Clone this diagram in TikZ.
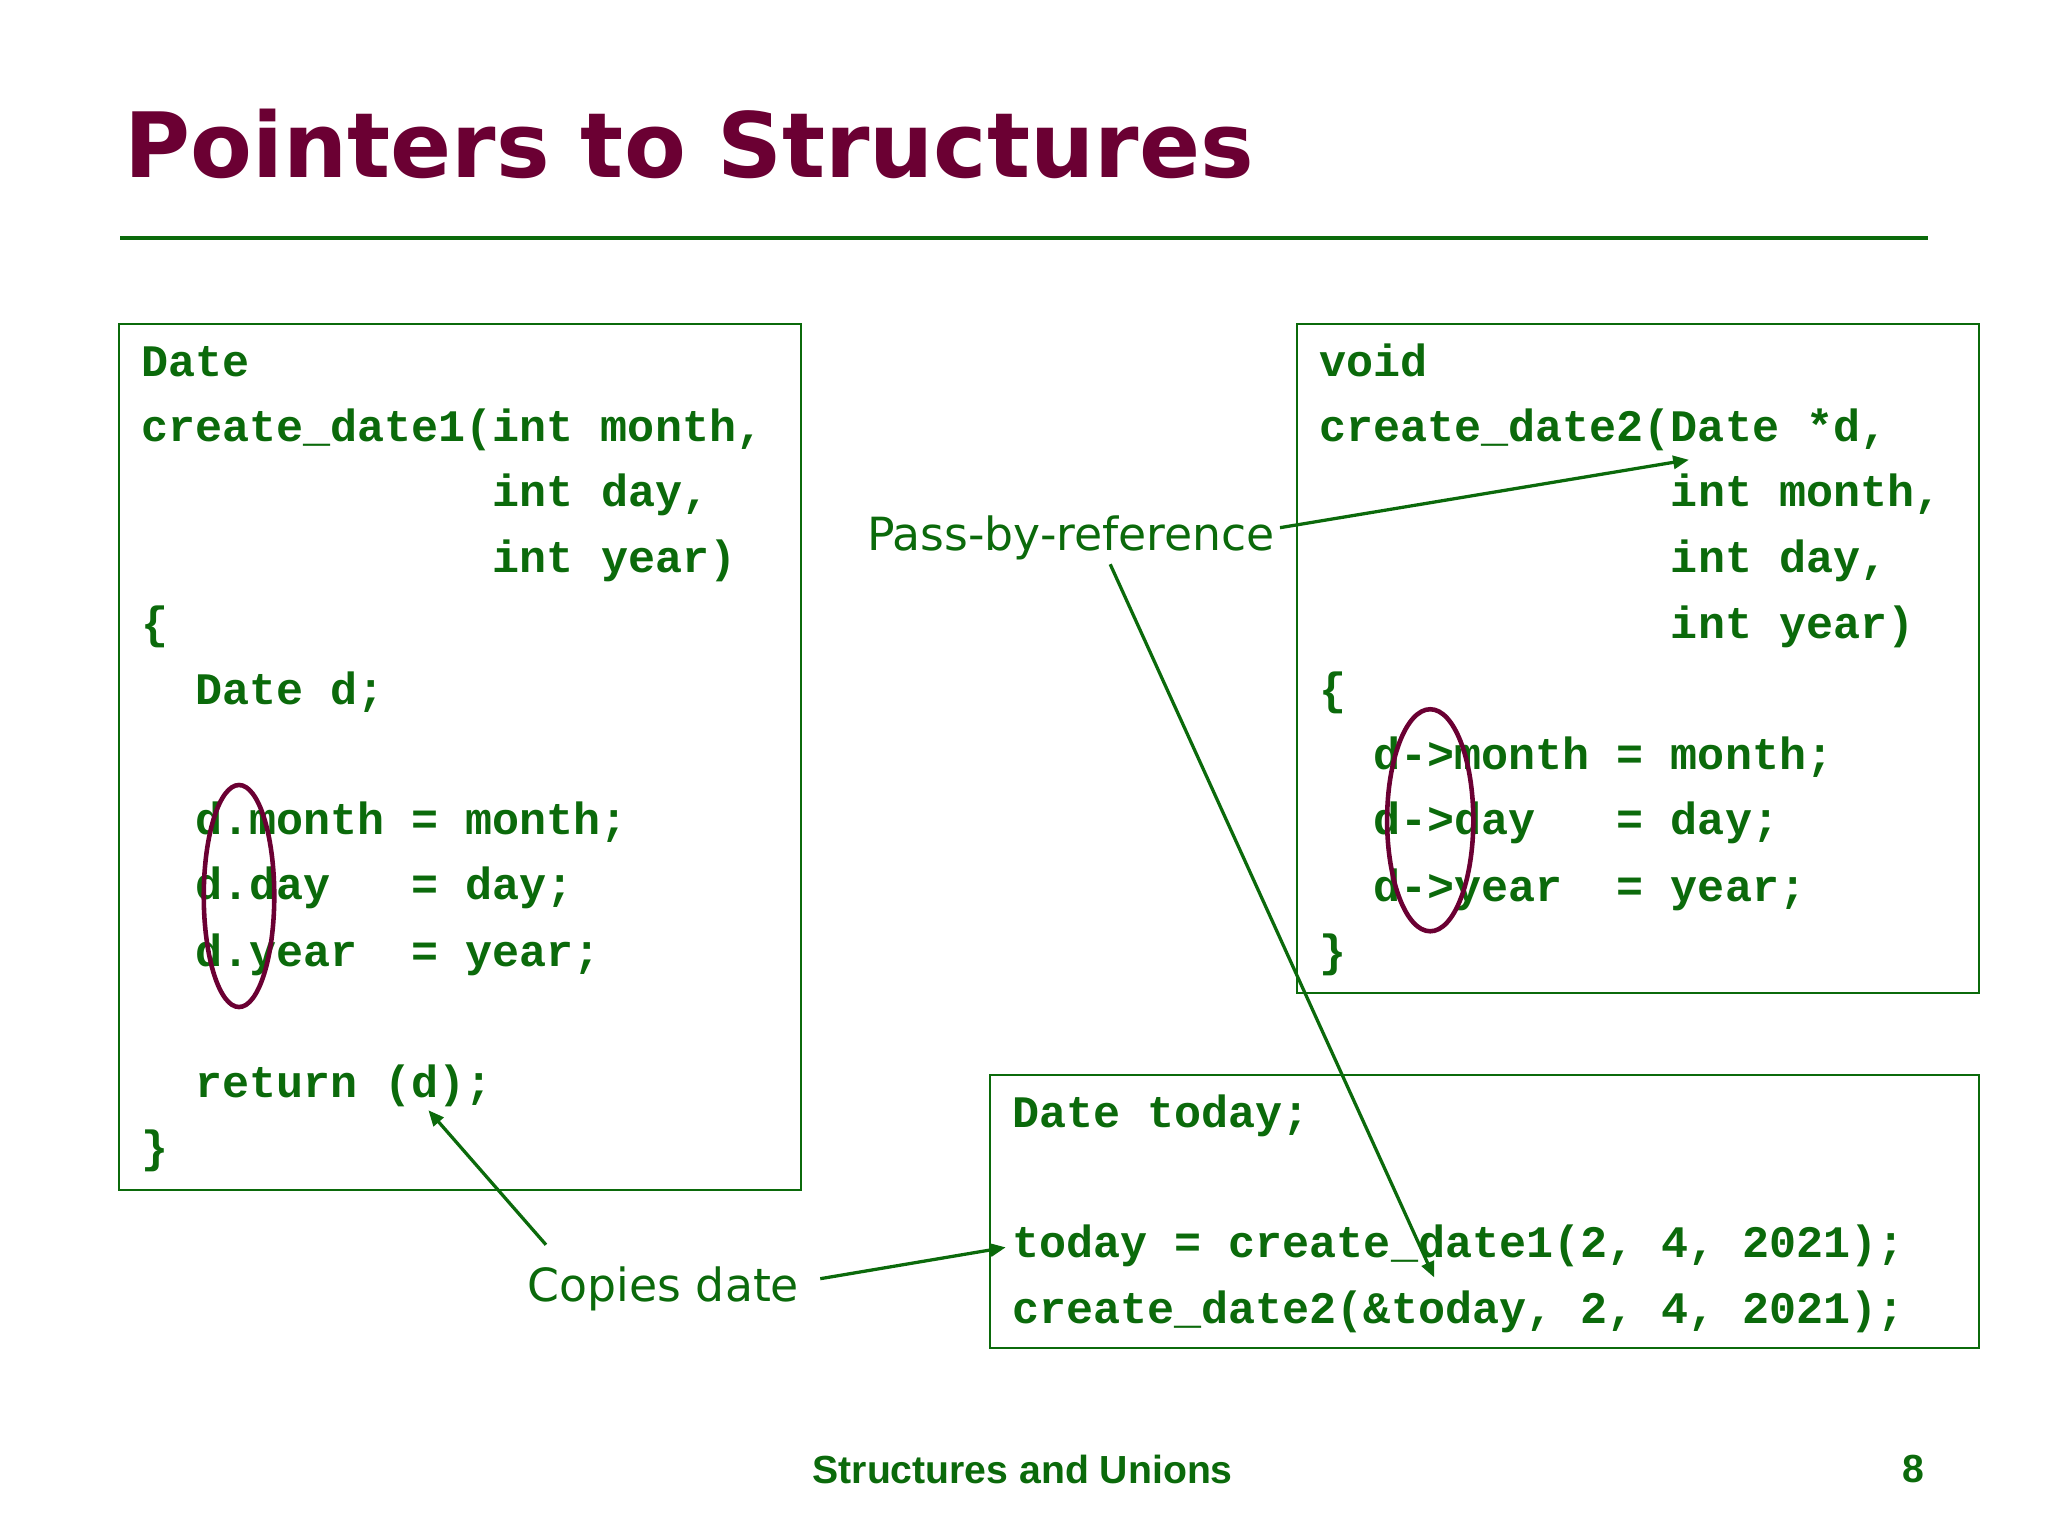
\documentclass[tikz,border=0pt]{standalone}
\usepackage{fontspec}
\setmainfont{DejaVu Sans}
\setmonofont{Liberation Mono}
\newfontfamily\footfont{Liberation Sans}
\usetikzlibrary{arrows.meta}
\definecolor{maroon}{HTML}{6B0033}
\definecolor{dgreen}{HTML}{0B6A0B}
\tikzset{
  code/.style={font=\fontsize{34.5}{40}\selectfont\ttfamily\bfseries, text=dgreen, anchor=base west, inner sep=0pt},
  box/.style={draw=dgreen, line width=1.5pt},
  lbl/.style={font=\fontsize{35}{40}\selectfont, text=dgreen, inner sep=0pt},
  arr/.style={draw=dgreen, line width=2.5pt, -{Triangle[length=12pt,width=10pt]}},
  ell/.style={draw=maroon, line width=3.5pt}
}
\begin{document}
\begin{tikzpicture}[x=1pt,y=-1pt]
\useasboundingbox (0,0) rectangle (1568,1176);
\fill[white] (0,0) rectangle (1568,1176);
\node[font=\fontsize{69}{76}\selectfont\bfseries, text=maroon, anchor=base west, inner sep=0pt] (title) at (95,136) {Pointers to Structures};
\draw[dgreen, line width=3pt] (92,182) coordinate (r1) -- (1476,182) coordinate (r2);
% boxes
\draw[box] (91,248) rectangle (613,911);
\draw[box] (993,248) rectangle (1515,760);
\draw[box] (758,823) rectangle (1515,1032);
% left code
\node[code] (l1) at (108,288) {Date};
\node[code] (l2) at (108,338) {create\_date1(int~month,};
\node[code] (l3) at (108,388) {~~~~~~~~~~~~~int~day,};
\node[code] (l4) at (108,438) {~~~~~~~~~~~~~int~year)};
\node[code] (l5) at (108,489) {\{};
\node[code] (l6) at (108,539) {~~Date~d;};
\node[code] (l7) at (108,639) {~~d.month~=~month;};
\node[code] (l8) at (108,689) {~~d.day~~~=~day;};
\node[code] (l9) at (108,740) {~~d.year~~=~year;};
\node[code] (l10) at (108,840) {~~return~(d);};
\node[code] (l11) at (108,890) {\}};
% right code
\node[code] (r1c) at (1010,288) {void};
\node[code] (r2c) at (1010,338) {create\_date2(Date~*d,};
\node[code] (r3c) at (1010,388) {~~~~~~~~~~~~~int~month,};
\node[code] (r4c) at (1010,438) {~~~~~~~~~~~~~int~day,};
\node[code] (r5c) at (1010,489) {~~~~~~~~~~~~~int~year)};
\node[code] (r6c) at (1010,539) {\{};
\node[code] (r7c) at (1010,589) {~~d->month~=~month;};
\node[code] (r8c) at (1010,639) {~~d->day~~~=~day;};
\node[code] (r9c) at (1010,690) {~~d->year~~=~year;};
\node[code] (r10c) at (1010,740) {\}};
% bottom code
\node[code] (b1) at (775,863) {Date~today;};
\node[code] (b2) at (775,963) {today~=~create\_date1(2,~4,~2021);};
\node[code] (b3) at (775,1013) {create\_date2(\&today,~2,~4,~2021);};
% ellipses
\draw[ell] (183,686) ellipse [x radius=27, y radius=85];
\draw[ell] (1095,628) ellipse [x radius=33, y radius=85];
% labels
\node[lbl] (pbr) at (820,412) {Pass-by-reference};
\node[lbl] (cd) at (508,987) {Copies date};
\coordinate (a1s) at (980,404); \coordinate (a1e) at (1293,352);
\coordinate (a2s) at (850,432); \coordinate (a2e) at (1098,978);
\coordinate (a3s) at (418,953); \coordinate (a3e) at (328,850);
\coordinate (a4s) at (628,979); \coordinate (a4e) at (770,955);
\draw[arr] (a1s) -- (a1e);
\draw[arr] (a2s) -- (a2e);
\draw[arr] (a3s) -- (a3e);
\draw[arr] (a4s) -- (a4e);
% footer
\node[font=\fontsize{30}{34}\selectfont\footfont\bfseries, text=dgreen, inner sep=0pt] (foot) at (783,1125) {Structures and Unions};
\node[font=\fontsize{30}{34}\selectfont\footfont\bfseries, text=dgreen, inner sep=0pt] (pg) at (1465,1125) {8};
\end{tikzpicture}
\end{document}
